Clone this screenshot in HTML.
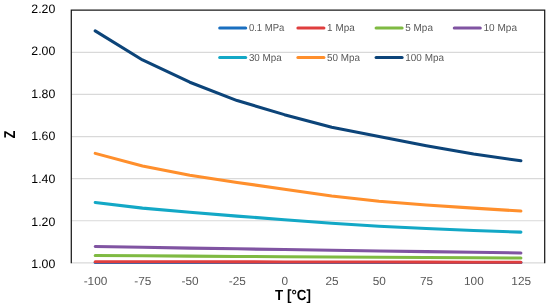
<!DOCTYPE html>
<html><head><meta charset="utf-8"><title>Z vs T</title>
<style>
html,body{margin:0;padding:0;background:#fff;}
body{width:550px;height:308px;overflow:hidden;}
svg{display:block;}
text{font-family:"Liberation Sans",sans-serif;text-rendering:geometricPrecision;}
.yl{font-size:12.3px;fill:#000;text-anchor:end;}
.xl{font-size:11.8px;fill:#595959;text-anchor:middle;}
.lg{font-size:10.2px;fill:#595959;}
.ti{font-size:14.7px;font-weight:bold;fill:#000;text-anchor:middle;}
.s{fill:none;stroke-width:3.05;stroke-linecap:round;stroke-linejoin:round;}
</style></head><body>
<svg width="550" height="308" viewBox="0 0 550 308">
<rect width="550" height="308" fill="#fff"/>

<line x1="71.3" x2="544.8" y1="262.85" y2="262.85" stroke="#D9D9D9" stroke-width="1.2"/>
<line x1="71.3" x2="544.8" y1="220.75" y2="220.75" stroke="#D9D9D9" stroke-width="1.2"/>
<line x1="71.3" x2="544.8" y1="178.65" y2="178.65" stroke="#D9D9D9" stroke-width="1.2"/>
<line x1="71.3" x2="544.8" y1="136.55" y2="136.55" stroke="#D9D9D9" stroke-width="1.2"/>
<line x1="71.3" x2="544.8" y1="94.45" y2="94.45" stroke="#D9D9D9" stroke-width="1.2"/>
<line x1="71.3" x2="544.8" y1="52.35" y2="52.35" stroke="#D9D9D9" stroke-width="1.2"/>
<path d="M71.3 263.2V10.2H544.7V263.2" fill="none" stroke="#1a1a1a" stroke-width="1.25"/>
<polyline class="s" stroke="#1A6FC0" points="95.20,262.53 142.50,262.53 189.80,262.53 237.10,262.53 284.40,262.53 331.70,262.53 379.00,262.53 426.30,262.53 473.60,262.53 520.90,262.53"/>
<polyline class="s" stroke="#DF3E3E" points="95.20,261.69 142.50,261.73 189.80,261.80 237.10,261.86 284.40,261.92 331.70,261.99 379.00,262.05 426.30,262.11 473.60,262.18 520.90,262.22"/>
<polyline class="s" stroke="#7FBA42" points="95.20,255.48 142.50,255.80 189.80,256.11 237.10,256.43 284.40,256.75 331.70,257.02 379.00,257.27 426.30,257.52 473.60,257.78 520.90,258.01"/>
<polyline class="s" stroke="#8054A2" points="95.20,246.43 142.50,247.27 189.80,248.12 237.10,248.85 284.40,249.59 331.70,250.28 379.00,250.96 426.30,251.63 473.60,252.33 520.90,252.96"/>
<polyline class="s" stroke="#13A8C6" points="95.20,202.44 142.50,208.12 189.80,212.33 237.10,216.12 284.40,219.70 331.70,223.28 379.00,226.22 426.30,228.54 473.60,230.43 520.90,232.12"/>
<polyline class="s" stroke="#FF8F2C" points="95.20,153.39 142.50,166.02 189.80,175.28 237.10,182.44 284.40,189.18 331.70,195.91 379.00,201.17 426.30,204.96 473.60,208.12 520.90,211.07"/>
<polyline class="s" stroke="#0C4479" points="95.20,30.88 142.50,59.93 189.80,82.24 237.10,100.55 284.40,114.66 331.70,127.29 379.00,136.55 426.30,145.81 473.60,154.02 520.90,160.76"/>
<text class="yl" x="55.3" y="267.80">1.00</text>
<text class="yl" x="55.3" y="225.50">1.20</text>
<text class="yl" x="55.3" y="182.90">1.40</text>
<text class="yl" x="55.3" y="140.40">1.60</text>
<text class="yl" x="55.3" y="97.90">1.80</text>
<text class="yl" x="55.3" y="55.30">2.00</text>
<text class="yl" x="55.3" y="13.10">2.20</text>
<text class="xl" x="95.50" y="285">-100</text>
<text class="xl" x="142.80" y="285">-75</text>
<text class="xl" x="190.10" y="285">-50</text>
<text class="xl" x="237.40" y="285">-25</text>
<text class="xl" x="284.70" y="285">0</text>
<text class="xl" x="332.00" y="285">25</text>
<text class="xl" x="379.30" y="285">50</text>
<text class="xl" x="426.60" y="285">75</text>
<text class="xl" x="473.90" y="285">100</text>
<text class="xl" x="521.20" y="285">125</text>
<text class="ti" transform="translate(293,300.3) scale(0.91,1)">T [°C]</text>
<text class="ti" transform="translate(14.6,134.5) rotate(-90) scale(0.855,1.07)">Z</text>
<line class="s" x1="219.70" x2="245.70" y1="28.00" y2="28.00" stroke="#1A6FC0"/>
<text class="lg" transform="translate(248.90,31.00) scale(0.935,1)">0.1 MPa</text>
<line class="s" x1="297.90" x2="323.90" y1="28.00" y2="28.00" stroke="#DF3E3E"/>
<text class="lg" transform="translate(327.10,31.00) scale(0.975,1)">1 Mpa</text>
<line class="s" x1="376.10" x2="402.10" y1="28.00" y2="28.00" stroke="#7FBA42"/>
<text class="lg" transform="translate(405.30,31.00) scale(0.975,1)">5 Mpa</text>
<line class="s" x1="454.30" x2="480.30" y1="28.00" y2="28.00" stroke="#8054A2"/>
<text class="lg" transform="translate(483.50,31.00) scale(0.985,1)">10 Mpa</text>
<line class="s" x1="219.70" x2="245.70" y1="57.50" y2="57.50" stroke="#13A8C6"/>
<text class="lg" transform="translate(248.90,60.50) scale(0.965,1)">30 Mpa</text>
<line class="s" x1="297.90" x2="323.90" y1="57.50" y2="57.50" stroke="#FF8F2C"/>
<text class="lg" transform="translate(327.10,60.50) scale(0.97,1)">50 Mpa</text>
<line class="s" x1="376.10" x2="402.10" y1="57.50" y2="57.50" stroke="#0C4479"/>
<text class="lg" transform="translate(405.30,60.50) scale(0.975,1)">100 Mpa</text>
</svg></body></html>
